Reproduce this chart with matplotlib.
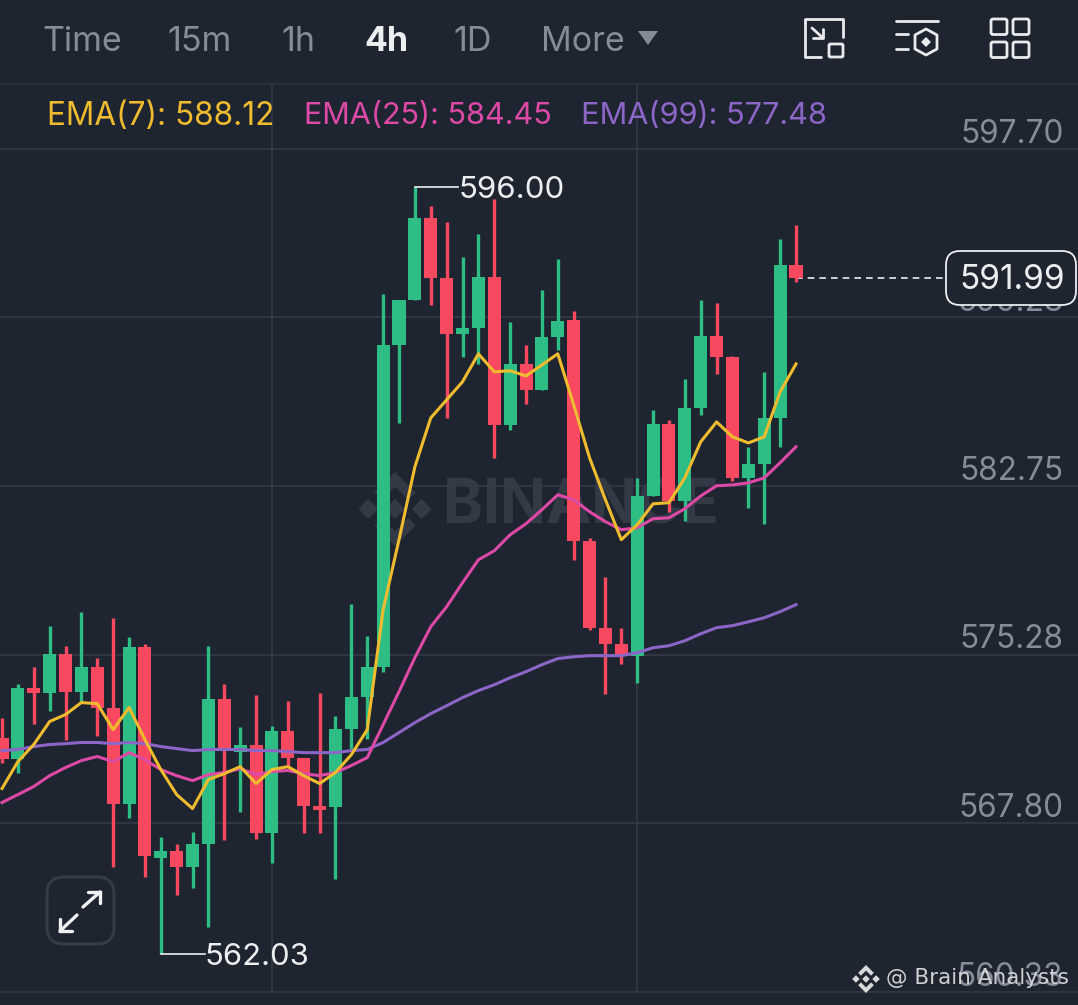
import matplotlib
matplotlib.use("Agg")
import numpy as np
import matplotlib.pyplot as plt
from matplotlib.patches import FancyBboxPatch, Polygon

opens = [571.61, 570.68, 573.82, 573.60, 575.33, 573.65, 574.75, 572.94, 568.68, 575.64,
         566.29, 566.60, 565.85, 566.91, 573.33, 570.99, 571.30, 567.40, 571.92, 570.72,
         568.59, 568.55, 572.01, 573.42, 574.75, 589.02, 591.01, 594.64, 591.98, 589.50,
         589.77, 592.02, 585.47, 588.18, 587.03, 589.37, 590.12, 580.33, 576.48, 575.77,
         575.24, 582.32, 585.51, 582.10, 586.23, 589.41, 588.49, 583.12, 583.75, 585.78,
         592.55]
closes = [570.68, 573.82, 573.60, 575.33, 573.65, 574.75, 572.94, 568.68, 575.64, 566.34,
          566.60, 565.85, 566.87, 573.33, 571.08, 571.30, 567.40, 571.92, 570.72, 568.59,
          568.42, 572.01, 573.42, 574.75, 589.02, 591.01, 594.64, 591.98, 589.50, 589.77,
          592.02, 585.47, 588.18, 587.03, 589.37, 590.08, 580.33, 576.48, 575.77, 575.24,
          582.32, 585.51, 582.10, 586.23, 589.41, 588.49, 583.12, 583.75, 585.78, 592.55,
          591.99]
highs = [572.49, 574.00, 574.75, 576.57, 575.68, 577.19, 575.15, 576.92, 576.08, 575.77,
         567.22, 566.87, 567.44, 575.68, 574.00, 572.09, 573.51, 572.14, 573.25, 570.72,
         573.60, 572.58, 577.54, 576.13, 591.28, 591.01, 596.00, 595.17, 594.47, 592.91,
         593.93, 595.48, 590.04, 589.02, 591.45, 592.83, 590.52, 580.47, 578.74, 576.48,
         583.12, 586.13, 585.69, 587.51, 591.01, 590.88, 588.53, 584.50, 587.82, 593.71,
         594.33]
lows = [570.46, 570.06, 572.23, 572.80, 571.52, 573.20, 571.70, 565.85, 568.06, 565.45,
        562.03, 564.65, 564.96, 563.23, 567.09, 568.33, 567.13, 566.07, 570.32, 567.40,
        567.40, 565.32, 571.08, 571.56, 574.53, 585.56, 591.01, 590.79, 585.78, 588.49,
        588.18, 584.01, 585.25, 586.41, 587.03, 588.80, 579.49, 576.39, 573.55, 574.89,
        574.04, 582.32, 581.61, 581.21, 585.92, 587.73, 582.99, 581.79, 581.08, 584.50,
        591.81]
ema7 = [569.35, 570.54, 571.30, 572.32, 572.63, 573.16, 573.11, 571.96, 572.94, 571.52,
        570.19, 569.08, 568.46, 569.75, 570.01, 570.32, 569.57, 570.19, 570.32, 569.92,
        569.57, 570.06, 570.85, 571.96, 577.28, 580.38, 583.61, 585.78, 586.58, 587.38,
        588.62, 587.82, 587.87, 587.64, 588.13, 588.62, 586.36, 584.01, 582.15, 580.38,
        581.04, 581.97, 582.02, 583.12, 584.72, 585.60, 584.94, 584.67, 584.94, 586.93,
        588.17]
ema25 = [568.73, 569.08, 569.44, 569.92, 570.28, 570.59, 570.77, 570.54, 570.94, 570.63,
         570.19, 569.92, 569.70, 569.97, 570.06, 570.23, 569.97, 570.10, 570.15, 570.01,
         569.92, 570.06, 570.37, 570.72, 572.18, 573.64, 575.15, 576.52, 577.41, 578.47,
         579.49, 579.89, 580.60, 581.09, 581.71, 582.37, 582.15, 581.62, 581.18, 580.82,
         580.91, 581.31, 581.35, 581.75, 582.32, 582.77, 582.81, 582.90, 583.12, 583.79,
         584.50]
ema99 = [571.03, 571.08, 571.21, 571.30, 571.34, 571.39, 571.39, 571.34, 571.39, 571.34,
         571.21, 571.12, 571.03, 571.08, 571.08, 571.08, 571.03, 571.03, 570.99, 570.94,
         570.94, 570.94, 571.03, 571.08, 571.39, 571.83, 572.27, 572.67, 573.02, 573.38,
         573.69, 573.95, 574.26, 574.53, 574.84, 575.11, 575.19, 575.24, 575.24, 575.24,
         575.37, 575.59, 575.68, 575.90, 576.21, 576.48, 576.57, 576.74, 576.92, 577.19,
         577.50]
price_levels = [597.70, 590.23, 582.75, 575.28, 567.80, 560.33]
price_labels = ["597.70", "590.23", "582.75", "575.28", "567.80", "560.33"]
time_index = [17, 40]
tabs = ["Time", "15m", "1h", "4h", "1D", "More"]
tab_x = [42, 167, 281, 364, 453, 541]
legend_text = ["EMA(7): 588.12", "EMA(25): 584.45", "EMA(99): 577.48"]
legend_x = [47, 304, 581]
legend_size = [22.7, 22, 22.1]
last_price = 591.99
high_mark = 596.00
low_mark = 562.03

BG = "#1e2530"
GRID = "#363c47"
GREEN = "#2ebd85"
RED = "#f84960"
YELLOW = "#efbc2f"
PINK = "#dd4aa6"
PURPLE = "#8c66c6"
MUTED = "#858c98"
WHITE = "#eceef0"
FONT = "Inter"

plt.rcParams["font.family"] = [FONT, "DejaVu Sans"]

W, H = 1078, 1005
fig = plt.figure(figsize=(W / 100, H / 100), dpi=100, facecolor=BG)


def pixel_axes(zorder):
    a = fig.add_axes([0, 0, 1, 1], zorder=zorder)
    a.set_xlim(0, W)
    a.set_ylim(H, 0)
    a.axis("off")
    a.patch.set_alpha(0)
    return a


def binance_logo(a, cx, cy, r, color, zorder=1):
    # little diamonds: centre, left, right, and chevrons top / bottom
    def diamond(x, y, s):
        a.add_patch(Polygon([(x - s, y), (x, y - s), (x + s, y), (x, y + s)], closed=True,
                            fc=color, ec="none", zorder=zorder))
    diamond(cx, cy, r * 0.27)
    diamond(cx - r * 0.72, cy, r * 0.27)
    diamond(cx + r * 0.72, cy, r * 0.27)
    for sign in (-1, 1):
        a.add_patch(Polygon([(cx - r * 0.56, cy + sign * r * 0.44), (cx, cy + sign * r),
                             (cx + r * 0.56, cy + sign * r * 0.44), (cx + r * 0.36, cy + sign * r * 0.24),
                             (cx, cy + sign * r * 0.6), (cx - r * 0.36, cy + sign * r * 0.24)],
                            closed=True, fc=color, ec="none", zorder=zorder))


back = pixel_axes(0)
back.plot([0, W], [84, 84], color="#2a313b", lw=1.5)
binance_logo(back, 395, 509, 37, "#333a45")
back.text(443, 507, "BINANCE", color="#333a45", fontsize=43.5, fontweight="bold", va="center", ha="left")

# chart area: x follows the candle index, y the price scale
ax = fig.add_axes([0, 0, 1, (H - 84) / H], zorder=1)
ax.patch.set_alpha(0)
px_per_bar = 15.88
ax.set_xlim(-2 / px_per_bar, (W - 2) / px_per_bar)
px_per_price = 168.6 / 7.47
ax.set_ylim(560.33 - (H - 992) / px_per_price, 597.70 + (149 - 84) / px_per_price)
for s in ax.spines.values():
    s.set_visible(False)
ax.set_xticks([])
ax.set_yticks([])

ax.hlines(price_levels, ax.get_xlim()[0], ax.get_xlim()[1], color=GRID, lw=1.1, zorder=1)
ax.vlines(time_index, 560.33, ax.get_ylim()[1], color=GRID, lw=1.1, zorder=1)

x = np.arange(len(opens))
opens_a = np.array(opens)
closes_a = np.array(closes)
colors = [GREEN if c >= o else RED for o, c in zip(opens_a, closes_a)]

ax.vlines(x, lows, highs, colors=colors, lw=2.4, zorder=3)
ax.bar(x, np.abs(closes_a - opens_a), bottom=np.minimum(opens_a, closes_a), width=0.82, color=colors, zorder=3)

ax.plot(x, ema99, color=PURPLE, lw=2.2, zorder=4, solid_joinstyle="round")
ax.plot(x, ema25, color=PINK, lw=2.2, zorder=4, solid_joinstyle="round")
ax.plot(x, ema7, color=YELLOW, lw=2.2, zorder=4, solid_joinstyle="round")

yaxis_tr = ax.get_yaxis_transform()
for level, label in zip(price_levels, price_labels):
    ax.text(0.9865, level + 0.66, label, transform=yaxis_tr, color=MUTED, fontsize=22.7, ha="right", va="center", zorder=2)

# high / low markers
ax.plot([26, 28.7], [high_mark, high_mark], color=WHITE, lw=1.2, zorder=5)
ax.text(28.72, high_mark - 0.12, f"{high_mark:.2f}", color=WHITE, fontsize=22.5, ha="left", va="center", zorder=5)
ax.plot([10, 12.8], [low_mark, low_mark], color=WHITE, lw=1.2, zorder=5)
ax.text(12.78, low_mark - 0.14, f"{low_mark:.2f}", color=WHITE, fontsize=22.4, ha="left", va="center", zorder=5)

# last price line
ax.plot([50, (945 - 2) / px_per_bar], [last_price, last_price], color=WHITE, lw=1.2, dashes=(4, 3), zorder=2)

top = pixel_axes(2)
top.add_patch(FancyBboxPatch((958, 263), 106, 30, boxstyle="round,pad=12,rounding_size=14", fc=BG, ec=WHITE, lw=1.3, zorder=3))
top.text(1012, 280, f"{last_price:.2f}", color=WHITE, fontsize=24, ha="center", va="center", zorder=4)

for label, tx in zip(tabs, tab_x):
    active = label == "4h"
    top.text(tx, 41.5, label, color=WHITE if active else MUTED, fontsize=24.5, ha="left", va="center",
             fontweight="bold" if active else "normal")
top.add_patch(Polygon([(638, 31), (658, 31), (648, 45)], closed=True, fc=MUTED, ec="none"))

for label, lx, col, size in zip(legend_text, legend_x, [YELLOW, PINK, PURPLE], legend_size):
    top.text(lx, 116, label, color=col, fontsize=size, ha="left", va="center")

# toolbar icons
ic = "#e9ebee"
kw = dict(color=ic, lw=2.0, solid_capstyle="round", solid_joinstyle="round")
top.plot([843, 843, 805, 805, 821], [37, 19, 19, 57, 57], **kw)
top.add_patch(FancyBboxPatch((829, 44), 14, 13, boxstyle="round,pad=0,rounding_size=1.5", fc="none", ec=ic, lw=2.0))
top.plot([812, 823], [28, 38], **kw)
top.plot([813, 823, 823], [38, 38, 29], **kw)
top.plot([896, 938], [21, 21], **kw)
top.plot([896, 908], [34, 34], **kw)
top.plot([896, 908], [49, 49], **kw)
hx, hy = 926, 42
top.add_patch(Polygon([(hx, hy - 13), (hx + 11, hy - 7), (hx + 11, hy + 7), (hx, hy + 13), (hx - 11, hy + 7), (hx - 11, hy - 7)],
                      closed=True, fc="none", ec=ic, lw=2.0, joinstyle="round"))
top.add_patch(Polygon([(hx - 5, hy), (hx, hy - 5), (hx + 5, hy), (hx, hy + 5)], closed=True, fc=ic, ec="none"))
for bx in (991, 1013):
    for by in (19, 42):
        top.add_patch(FancyBboxPatch((bx, by), 16, 15.5, boxstyle="round,pad=0,rounding_size=2", fc="none", ec=ic, lw=2.0))

# expand button
top.add_patch(FancyBboxPatch((47, 877), 67, 67, boxstyle="round,pad=0,rounding_size=17", fc=BG, ec=GRID, lw=2.2))
akw = dict(color="#f0f1f3", lw=2.4, solid_capstyle="round", solid_joinstyle="miter")
top.plot([83, 100], [907, 892], **akw)
top.plot([88, 100, 100], [892, 892, 903], **akw)
top.plot([77, 60], [915, 931], **akw)
top.plot([60, 60, 72], [919, 931, 931], **akw)

# source watermark
binance_logo(top, 866, 979, 14, "#d8d9db")
top.text(886, 978, "@ Brain Analysts", color="#d8d9db", fontsize=15.5, family="DejaVu Sans", ha="left", va="center", alpha=0.95)

fig.savefig("out.png", dpi=100, facecolor=BG)
